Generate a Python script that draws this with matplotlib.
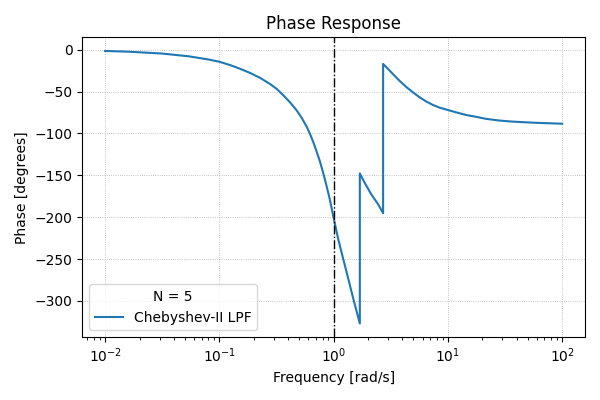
import matplotlib
matplotlib.use("Agg")
import matplotlib.pyplot as plt

# Frequency samples [rad/s] and phase [degrees]
freq = [0.01, 0.0162, 0.0316, 0.054, 0.0805, 0.1, 0.125, 0.1525, 0.186, 0.2277,
        0.278, 0.318, 0.363, 0.416, 0.475, 0.526, 0.581, 0.621, 0.664, 0.711,
        0.759, 0.802, 0.839, 0.879, 0.916, 0.946, 1.0, 1.096, 1.213, 1.34,
        1.483, 1.695,
        1.695, 1.875, 2.14, 2.45, 2.71,
        2.71, 2.99, 3.31, 3.79, 4.32, 4.95, 5.65, 6.47, 7.38, 8.45,
        10.0, 11.8, 14.5, 17.7, 21.6, 28.2, 36.8, 58.9, 100.0]
phase = [-1.5, -2.4, -4.6, -7.9, -11.7, -14.4, -18.5, -22.9, -27.8, -33.7,
         -41.0, -46.9, -54.5, -63.0, -72.5, -81.5, -92.0, -100.5, -110.5, -122.0,
         -133.5, -145.0, -155.0, -166.0, -176.0, -185.0, -201.0, -226.0, -250.0, -273.0,
         -297.0, -327.0,
         -147.7, -159.3, -173.0, -184.5, -195.3,
         -17.0, -22.9, -29.2, -37.4, -44.5, -51.0, -56.8, -61.9, -65.9, -69.2,
         -72.0, -74.8, -78.0, -80.2, -82.6, -84.6, -85.9, -87.3, -88.4]
cutoff = 1.0
series_label = "Chebyshev-II LPF"
legend_title = "N = 5"

fig, ax = plt.subplots(figsize=(6, 4), dpi=100)
ax.semilogx(freq, phase, label=series_label)
ax.axvline(cutoff, color="k", linestyle="-.", linewidth=1)
ax.set_title("Phase Response")
ax.set_xlabel("Frequency [rad/s]")
ax.set_ylabel("Phase [degrees]")
ax.grid(True, which="major", linestyle=":", color="#b0b0b0", linewidth=0.6)
ax.legend(title=legend_title, loc="lower left")
fig.tight_layout()
fig.savefig("out.png")
